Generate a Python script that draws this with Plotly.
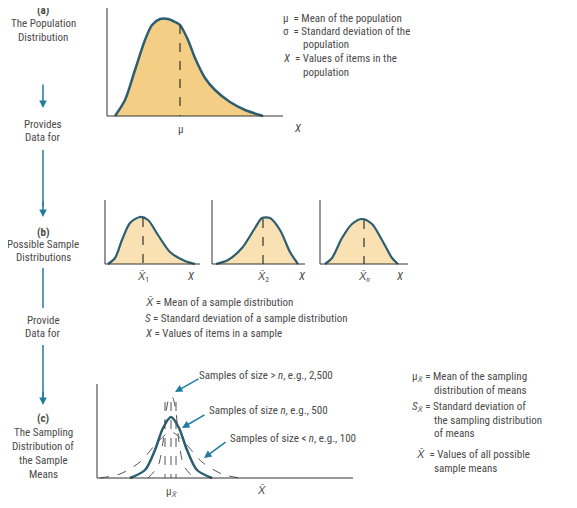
import plotly.graph_objects as go

# diagram coordinates (x right, y down)
pop_x = [115,125,135,145,152,160,168,175,180,188,195,205,215,230,245,263]
pop_y = [116,100,70,40,25,19,19,22,25,40,58,78,90,102,110,116]
s1_x = [108,115,122,130,140,148,158,170,185,195]
s1_y = [264,258,240,223,217,220,235,252,261,264]
s2_x = [216,228,242,255,262,270,280,290,298]
s2_y = [264,260,248,228,218,218,230,252,264]
s3_x = [325,332,342,352,362,372,382,392,398]
s3_y = [264,258,238,224,219,224,240,258,264]
wide_x = [100,120,140,155,165,171,177,187,202,222,240]
wide_y = [478,474,462,445,435,432,435,445,462,474,478]
mid_x = [130,145,155,163,171,179,187,197,212]
mid_y = [478,470,450,428,417,428,450,470,478]
nar_x = [148,158,163,166,169,171,173,176,179,184,194]
nar_y = [478,466,442,412,398,396,398,412,442,466,478]

FILL = "#F5CE86"; LINE = "#2C5E72"; ARW = "#1F7BA0"; TXT = "#4a4a4a"
FONT = "Liberation Sans Narrow, Roboto Condensed, Liberation Sans"

fig = go.Figure()
def curve(x, y, fill=None, dash="solid", w=2.2, col=LINE, shape="spline"):
    fig.add_trace(go.Scatter(x=x, y=y, mode="lines", line=dict(color=col, width=w, dash=dash, shape=shape, smoothing=0.8),
                             fill="toself" if fill else None, fillcolor=fill, hoverinfo="skip"))
curve(pop_x, pop_y, FILL, w=2.5)
for cx, cy in [(s1_x, s1_y), (s2_x, s2_y), (s3_x, s3_y)]:
    curve(cx, cy, "#F9E1B3")
curve(wide_x, wide_y, dash="dash", w=1, col="#555")
curve(nar_x, nar_y, dash="dash", w=1, col="#555")
curve(mid_x, mid_y, w=2.5)

def seg(x0, y0, x1, y1, dash="solid", col="#333", w=1):
    fig.add_shape(type="line", x0=x0, y0=y0, x1=x1, y1=y1, line=dict(color=col, width=w, dash=dash))
seg(107, 5, 107, 116); seg(107, 116, 283, 116)
seg(180, 25, 180, 116, "dash", "#333", 1.2)
for ax0, ax1 in [(105, 200), (212, 305), (320, 408)]:
    seg(ax0, 200, ax0, 264); seg(ax0, 264, ax1, 264)
for m, top in [(143, 218), (263, 219), (364, 220)]:
    seg(m, top, m, 264, "dash", "#333", 1.2)
seg(97, 384, 97, 478); seg(97, 478, 353, 478)
for vx in [165, 171, 176]:
    seg(vx, 402, vx, 478, "dash", "#555", 1)
seg(43, 150, 43, 206, col=ARW, w=1.5); seg(43, 268, 43, 308, col=ARW, w=1.5); seg(43, 345, 43, 398, col=ARW, w=1.5)

def ann(x, y, t, size=11, anchor="center", color=TXT):
    fig.add_annotation(x=x, y=y, text=t, showarrow=False, xanchor=anchor, yanchor="middle",
                       font=dict(family=FONT, size=size, color=color))
def arrow(x0, y0, x1, y1):
    fig.add_annotation(x=x1, y=y1, ax=x0, ay=y0, axref="x", ayref="y", xref="x", yref="y", text="",
                       showarrow=True, arrowhead=2, arrowsize=1, arrowwidth=1.5, arrowcolor=ARW)
arrow(43, 83, 43, 108); arrow(43, 200, 43, 217); arrow(43, 390, 43, 405)

left = [(10, "<b>(a)</b>"), (23, "The Population"), (37, "Distribution"), (124, "Provides"), (137, "Data for"),
        (232, "<b>(b)</b>"), (244, "Possible Sample"), (257, "Distributions"), (320, "Provide"), (333, "Data for"),
        (418, "<b>(c)</b>"), (432, "The Sampling"), (446, "Distribution of"), (460, "the Sample"), (474, "Means")]
for y, t in left:
    ann(43, y, t)

ann(180, 129, "μ"); ann(298, 128, "<i>X</i>")
ann(143, 277, "<i>X̄</i><sub>1</sub>"); ann(191, 276, "<i>X</i>")
ann(263, 277, "<i>X̄</i><sub>2</sub>"); ann(302, 276, "<i>X</i>")
ann(364, 277, "<i>X̄<sub>n</sub></i>"); ann(400, 276, "<i>X</i>")
ann(171, 492, "μ<sub><i>X̄</i></sub>"); ann(261, 490, "<i>X̄</i>")

for x, y, t in [(281, 18, "μ  = Mean of the population"), (281, 31, "σ  = Standard deviation of the"),
                (301, 44, "population"), (281, 58, "<i>X</i>  = Values of items in the"), (301, 72, "population"),
                (143, 302, "<i>X̄</i> = Mean of a sample distribution"),
                (143, 318, "<i>S</i> = Standard deviation of a sample distribution"),
                (143, 333, "<i>X</i> = Values of items in a sample"),
                (410, 377, "μ<sub><i>X̄</i></sub> = Mean of the sampling"), (432, 390, "distribution of means"),
                (410, 407, "<i>S<sub>X̄</sub></i> = Standard deviation of"), (432, 420, "the sampling distribution"),
                (432, 433, "of means"), (414, 454, "<i>X̄</i>  = Values of all possible"), (432, 468, "sample means"),
                (197, 375, "Samples of size > <i>n</i>, e.g., 2,500"), (207, 410, "Samples of size <i>n</i>, e.g., 500"),
                (228, 438, "Samples of size < <i>n</i>, e.g., 100")]:
    ann(x, y, t, anchor="left")
arrow(200, 378, 175, 392); arrow(206, 414, 182, 428); arrow(227, 441, 204, 458)

# ranges offset by the page's 8px body margin so content lands where the reference has it
fig.update_layout(width=577, height=508, margin=dict(l=0, r=0, t=0, b=0), showlegend=False,
                  plot_bgcolor="white", paper_bgcolor="white",
                  xaxis=dict(range=[8, 585], visible=False, fixedrange=True),
                  yaxis=dict(range=[516, 8], visible=False, fixedrange=True))
fig.write_html("out.html")
